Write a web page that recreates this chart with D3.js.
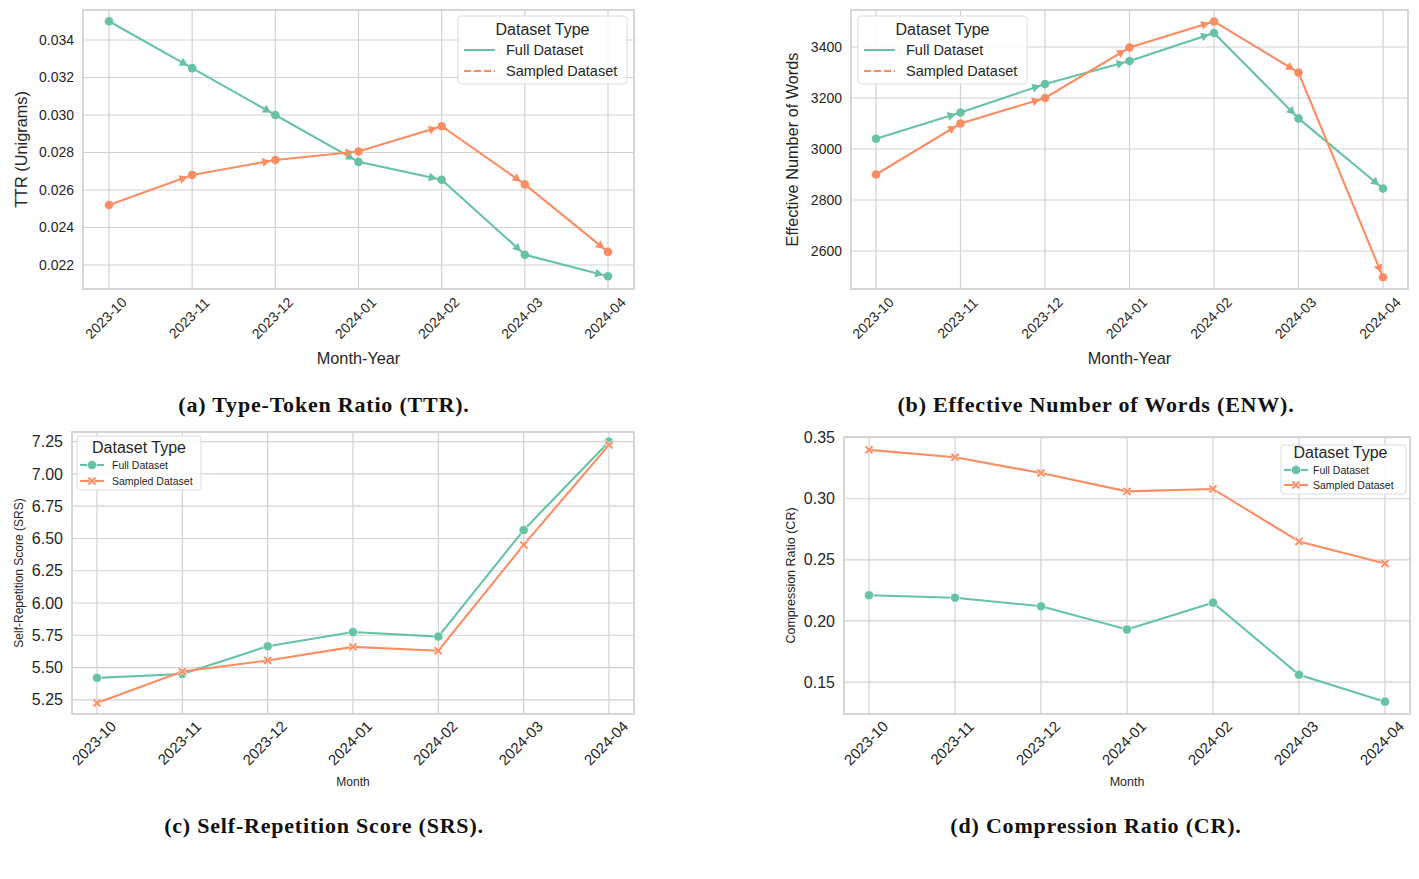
<!DOCTYPE html>
<html><head><meta charset="utf-8">
<script src="https://cdn.jsdelivr.net/npm/d3@7"></script>
<style>body{margin:0;background:#fff}svg{display:block}</style>
</head><body>
<svg id="c" width="1419" height="879"></svg>
<script>
const months = ["2023-10","2023-11","2023-12","2024-01","2024-02","2024-03","2024-04"];
const seriesNames = ["Full Dataset","Sampled Dataset"];

const ttrFull    = [0.0350,0.0325,0.0300,0.0275,0.02655,0.02255,0.0214];
const ttrSampled = [0.0252,0.0268,0.0276,0.02805,0.0294,0.0263,0.0227];
const ttrTicks   = [0.022,0.024,0.026,0.028,0.030,0.032,0.034];

const enwFull    = [3040,3143,3255,3345,3455,3120,2845];
const enwSampled = [2900,3100,3200,3398,3500,3300,2497];
const enwTicks   = [2600,2800,3000,3200,3400];

const srsFull    = [5.42,5.45,5.665,5.775,5.74,6.565,7.25];
const srsSampled = [5.225,5.47,5.555,5.66,5.63,6.45,7.225];
const srsTicks   = [5.25,5.50,5.75,6.00,6.25,6.50,6.75,7.00,7.25];

const crFull     = [0.221,0.219,0.212,0.193,0.215,0.156,0.134];
const crSampled  = [0.340,0.334,0.321,0.306,0.308,0.265,0.247];
const crTicks    = [0.15,0.20,0.25,0.30,0.35];

const captions = ["(a) Type-Token Ratio (TTR).","(b) Effective Number of Words (ENW).",
                  "(c) Self-Repetition Score (SRS).","(d) Compression Ratio (CR)."];

const GREEN = "#66c2a5", ORANGE = "#fc8d62", GRID = "#d2d2d2", TXT = "#262626";
const svg = d3.select("#c");

function panel(cfg){
  const g = svg.append("g");
  const x = d3.scalePoint().domain(months).range([cfg.x0 + cfg.pad, cfg.x1 - cfg.pad]);
  const y = d3.scaleLinear().domain(cfg.domain).range([cfg.y1, cfg.y0]);
  g.append("g").selectAll("line").data(months).join("line")
    .attr("x1", d=>x(d)).attr("x2", d=>x(d)).attr("y1", cfg.y0).attr("y2", cfg.y1)
    .attr("stroke", GRID).attr("stroke-width", 1.2);
  g.append("g").selectAll("line").data(cfg.ticks).join("line")
    .attr("x1", cfg.x0).attr("x2", cfg.x1).attr("y1", d=>y(d)).attr("y2", d=>y(d))
    .attr("stroke", GRID).attr("stroke-width", 1.2);
  g.append("rect").attr("x", cfg.x0).attr("y", cfg.y0).attr("width", cfg.x1-cfg.x0).attr("height", cfg.y1-cfg.y0)
    .attr("fill","none").attr("stroke", GRID).attr("stroke-width", 1.8);
  g.append("g").selectAll("text").data(cfg.ticks).join("text")
    .attr("x", cfg.x0 - 9).attr("y", d=>y(d)).attr("dy","0.35em")
    .attr("text-anchor","end").attr("font-family","Liberation Sans, Arial, sans-serif")
    .attr("font-size", cfg.ytickFs).attr("fill", TXT).text(d=>d3.format(cfg.fmt)(d));
  g.append("g").selectAll("text").data(months).join("text")
    .attr("transform", d=>`translate(${x(d)-3},${cfg.y1+29}) rotate(-45)`)
    .attr("text-anchor","middle").attr("dy","0.35em")
    .attr("font-family","Liberation Sans, Arial, sans-serif")
    .attr("font-size", cfg.xtickFs).attr("fill", TXT).text(d=>d);
  g.append("text").attr("x", (cfg.x0+cfg.x1)/2).attr("y", cfg.xlabY)
    .attr("text-anchor","middle").attr("font-family","Liberation Sans, Arial, sans-serif")
    .attr("font-size", cfg.labFs).attr("fill", TXT).text(cfg.xlab);
  g.append("text").attr("transform", `translate(${cfg.ylabX},${(cfg.y0+cfg.y1)/2}) rotate(-90)`)
    .attr("text-anchor","middle").attr("font-family","Liberation Sans, Arial, sans-serif")
    .attr("font-size", cfg.labFs).attr("fill", TXT).text(cfg.ylab);

  const data = [cfg.full, cfg.sampled];
  const colors = [GREEN, ORANGE];
  const line = d3.line().x((d,i)=>x(months[i])).y(d=>y(d));
  data.forEach((vals, si)=>{
    const sg = g.append("g");
    sg.append("path").datum(vals).attr("d", line).attr("fill","none")
      .attr("stroke", colors[si]).attr("stroke-width", 2.1);
    if (cfg.style === "arrow") {
      const pts = vals.map((v,i)=>[x(months[i]), y(v)]);
      for (let i=1;i<pts.length;i++){
        const [ax,ay]=pts[i-1],[bx,by]=pts[i];
        const ang = Math.atan2(by-ay,bx-ax)*180/Math.PI;
        sg.append("path").attr("d","M-5,0 L-13,-4.5 L-13,4.5 Z")
          .attr("transform",`translate(${bx},${by}) rotate(${ang})`).attr("fill", colors[si]);
      }
      sg.selectAll("circle").data(vals).join("circle")
        .attr("cx",(d,i)=>x(months[i])).attr("cy",d=>y(d)).attr("r",4.3).attr("fill",colors[si]);
    } else if (si===0) {
      sg.selectAll("circle").data(vals).join("circle")
        .attr("cx",(d,i)=>x(months[i])).attr("cy",d=>y(d)).attr("r",4.6)
        .attr("fill",colors[si]).attr("stroke","#fff").attr("stroke-width",0.6);
    } else {
      sg.selectAll("path.m").data(vals).join("path")
        .attr("d", xMarker(4.5)).attr("transform",(d,i)=>`translate(${x(months[i])},${y(d)})`)
        .attr("fill",colors[si]).attr("stroke","#fff").attr("stroke-width",0.6);
    }
  });

  const L = cfg.legend;
  const lg = g.append("g");
  lg.append("rect").attr("x",L.x).attr("y",L.y).attr("width",L.w).attr("height",L.h).attr("rx",3)
    .attr("fill","rgba(255,255,255,0.85)").attr("stroke","#dcdcdc").attr("stroke-width",1);
  lg.append("text").attr("x",L.x+L.w/2 + (L.titleDx||0)).attr("y",L.y+L.titleDy).attr("dy","0.35em")
    .attr("text-anchor","middle")
    .attr("font-family","Liberation Sans, Arial, sans-serif").attr("font-size",L.titleFs).attr("fill",TXT).text("Dataset Type");
  seriesNames.forEach((nm,i)=>{
    const yy = L.y + L.row0 + i*L.rowH;
    const ln = lg.append("line").attr("x1",L.x+L.lx0).attr("x2",L.x+L.lx1).attr("y1",yy).attr("y2",yy)
      .attr("stroke",colors[i]).attr("stroke-width",2.1);
    if (cfg.style==="arrow" && i===1) ln.attr("stroke-dasharray","7,3");
    if (cfg.style!=="arrow"){
      const mx=(L.x+L.lx0+L.x+L.lx1)/2;
      if(i===0) lg.append("circle").attr("cx",mx).attr("cy",yy).attr("r",4.6).attr("fill",colors[i]).attr("stroke","#fff").attr("stroke-width",0.6);
      else lg.append("path").attr("d",xMarker(4.5)).attr("transform",`translate(${mx},${yy})`).attr("fill",colors[i]).attr("stroke","#fff").attr("stroke-width",0.6);
    }
    lg.append("text").attr("x",L.x+L.tx).attr("y",yy).attr("dy","0.35em")
      .attr("font-family","Liberation Sans, Arial, sans-serif").attr("font-size",L.fs).attr("fill",TXT).text(nm);
  });

  svg.append("text").attr("x",cfg.capX).attr("y",cfg.capY).attr("text-anchor","middle")
    .attr("font-family","Liberation Serif, Times New Roman, serif").attr("font-weight","bold")
    .attr("font-size",22).attr("letter-spacing","0.8px").attr("fill","#111").text(cfg.caption);
}

function xMarker(s){
  const t = s*0.38;
  return `M${-s},${-s+t} L${-t},0 L${-s},${s-t} L${-s+t},${s} L0,${t} L${s-t},${s} L${s},${s-t} L${t},0 L${s},${-s+t} L${s-t},${-s} L0,${-t} L${-s+t},${-s} Z`;
}

panel({x0:83,x1:634,y0:10,y1:289,pad:26,domain:[0.02072,0.0356],ticks:ttrTicks,fmt:".3f",
  full:ttrFull,sampled:ttrSampled,style:"arrow",ytickFs:14,xtickFs:14,labFs:16.3,
  xlab:"Month-Year",ylab:"TTR (Unigrams)",xlabY:364,ylabX:27,
  legend:{x:458,y:16,w:169,h:68,titleFs:16,titleDy:13,row0:34,rowH:21,lx0:6,lx1:37,tx:48,fs:14.5},
  caption:captions[0],capX:324,capY:412});
panel({x0:851,x1:1408,y0:10,y1:289,pad:25,domain:[2451,3545],ticks:enwTicks,fmt:"d",
  full:enwFull,sampled:enwSampled,style:"arrow",ytickFs:14,xtickFs:14,labFs:16.3,
  xlab:"Month-Year",ylab:"Effective Number of Words",xlabY:364,ylabX:798,
  legend:{x:858,y:16,w:169,h:68,titleFs:16,titleDy:13,row0:34,rowH:21,lx0:6,lx1:37,tx:48,fs:14.5},
  caption:captions[1],capX:1096,capY:412});
panel({x0:72,x1:634,y0:432,y1:714,pad:25,domain:[5.14,7.325],ticks:srsTicks,fmt:".2f",
  full:srsFull,sampled:srsSampled,style:"marker",ytickFs:16,xtickFs:15,labFs:12,
  xlab:"Month",ylab:"Self-Repetition Score (SRS)",xlabY:786,ylabX:23,
  legend:{x:77,y:436,w:124,h:54,titleFs:16,titleDy:11,row0:29,rowH:16,lx0:3,lx1:27,tx:35,fs:10.5},
  caption:captions[2],capX:324,capY:833});
panel({x0:844,x1:1410,y0:437,y1:714,pad:25,domain:[0.1239,0.3505],ticks:crTicks,fmt:".2f",
  full:crFull,sampled:crSampled,style:"marker",ytickFs:16,xtickFs:15,labFs:12.5,
  xlab:"Month",ylab:"Compression Ratio (CR)",xlabY:786,ylabX:795,
  legend:{x:1281,y:445,w:125,h:49,titleFs:16,titleDy:7,row0:25,rowH:15,lx0:3,lx1:27,tx:32,fs:10.5,titleDx:-3},
  caption:captions[3],capX:1096,capY:833});
</script>
</body></html>
